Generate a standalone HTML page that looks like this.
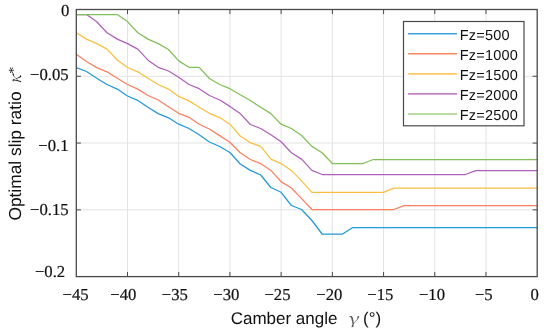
<!DOCTYPE html>
<html><head><meta charset="utf-8"><title>Optimal slip ratio vs camber angle</title>
<style>html,body{margin:0;padding:0;background:#fff;width:550px;height:336px;overflow:hidden}svg{display:block;text-rendering:geometricPrecision}.tk{font-family:"Liberation Serif","Times New Roman",serif;font-size:16.7px;fill:#111;stroke:#111;stroke-width:0.2px}.lg{font-family:"Liberation Sans",Arial,sans-serif;font-size:14.5px;letter-spacing:0.2px;fill:#111}.lb{font-family:"Liberation Sans",Arial,sans-serif;font-size:17px;fill:#111}.gk{font-family:"Noto Serif CJK SC","Liberation Serif",serif;font-size:16px;fill:#1a1a1a}.st{font-family:"Liberation Serif","Times New Roman",serif;font-size:14px;fill:#111}</style>
</head><body>
<svg width="550" height="336" viewBox="0 0 550 336"><rect width="550" height="336" fill="#fff"/><line x1="127.51" y1="9.50" x2="127.51" y2="276.60" stroke="#e3e3e3" stroke-width="1"/><line x1="178.72" y1="9.50" x2="178.72" y2="276.60" stroke="#e3e3e3" stroke-width="1"/><line x1="229.93" y1="9.50" x2="229.93" y2="276.60" stroke="#e3e3e3" stroke-width="1"/><line x1="281.14" y1="9.50" x2="281.14" y2="276.60" stroke="#e3e3e3" stroke-width="1"/><line x1="332.36" y1="9.50" x2="332.36" y2="276.60" stroke="#e3e3e3" stroke-width="1"/><line x1="383.57" y1="9.50" x2="383.57" y2="276.60" stroke="#e3e3e3" stroke-width="1"/><line x1="434.78" y1="9.50" x2="434.78" y2="276.60" stroke="#e3e3e3" stroke-width="1"/><line x1="485.99" y1="9.50" x2="485.99" y2="276.60" stroke="#e3e3e3" stroke-width="1"/><line x1="76.30" y1="76.28" x2="537.20" y2="76.28" stroke="#e3e3e3" stroke-width="1"/><line x1="76.30" y1="143.05" x2="537.20" y2="143.05" stroke="#e3e3e3" stroke-width="1"/><line x1="76.30" y1="209.83" x2="537.20" y2="209.83" stroke="#e3e3e3" stroke-width="1"/><polyline points="76.3,67.6 86.5,71.5 96.8,78.2 107.0,84.5 117.3,89.1 127.5,96.0 137.8,100.4 148.0,107.3 158.2,113.6 168.5,117.8 178.7,124.2 189.0,128.5 199.2,134.8 209.4,142.0 219.7,146.5 229.9,152.5 240.2,164.0 250.4,170.4 260.7,175.0 270.9,187.5 281.1,192.3 291.4,205.5 301.6,209.5 311.9,220.5 322.1,234.0 342.6,234.0 352.8,227.5 537.2,227.5" fill="none" stroke="#2299d8" stroke-width="1.25" stroke-linejoin="round"/><polyline points="76.3,54.2 86.5,61.5 96.8,67.6 107.0,71.8 117.3,78.2 127.5,84.5 137.8,89.1 148.0,95.5 158.2,100.0 168.5,106.8 178.7,113.3 189.0,117.3 199.2,124.2 209.4,129.0 219.7,135.6 229.9,142.2 240.2,152.8 250.4,159.5 260.7,163.6 270.9,170.4 281.1,181.6 291.4,188.0 301.6,198.6 311.9,209.5 393.8,209.5 404.1,205.7 537.2,205.7" fill="none" stroke="#f88060" stroke-width="1.25" stroke-linejoin="round"/><polyline points="76.3,32.7 86.5,39.1 96.8,43.6 107.0,49.1 117.3,60.0 127.5,67.5 137.8,71.8 148.0,78.2 158.2,84.5 168.5,89.1 178.7,96.4 189.0,100.9 199.2,107.3 209.4,113.3 219.7,117.6 229.9,124.2 240.2,136.0 250.4,142.7 260.7,146.4 270.9,159.1 281.1,163.6 291.4,170.4 301.6,180.9 311.9,192.3 383.6,192.3 393.8,188.2 537.2,188.2" fill="none" stroke="#f9c040" stroke-width="1.25" stroke-linejoin="round"/><polyline points="76.3,14.6 86.5,14.6 96.8,21.8 107.0,32.7 117.3,39.1 127.5,43.6 137.8,49.1 148.0,60.2 158.2,67.3 168.5,71.0 178.7,77.3 189.0,84.5 199.2,88.7 209.4,95.5 219.7,100.0 229.9,106.4 240.2,113.6 250.4,124.5 260.7,128.5 270.9,134.8 281.1,141.8 291.4,152.7 301.6,159.1 311.9,170.4 322.1,174.5 465.5,174.5 475.7,170.6 537.2,170.6" fill="none" stroke="#b060bc" stroke-width="1.25" stroke-linejoin="round"/><polyline points="76.3,14.6 117.3,14.6 127.5,21.6 137.8,32.7 148.0,39.1 158.2,43.6 168.5,49.5 178.7,60.9 189.0,67.3 199.2,67.3 209.4,78.5 219.7,84.5 229.9,88.7 240.2,94.8 250.4,100.5 260.7,107.3 270.9,113.6 281.1,124.2 291.4,128.5 301.6,135.5 311.9,146.4 322.1,152.7 332.4,163.5 363.1,163.5 373.3,159.5 537.2,159.5" fill="none" stroke="#80c058" stroke-width="1.25" stroke-linejoin="round"/><line x1="127.51" y1="276.60" x2="127.51" y2="272.00" stroke="#4a4a4a" stroke-width="1"/><line x1="127.51" y1="9.50" x2="127.51" y2="14.10" stroke="#4a4a4a" stroke-width="1"/><line x1="178.72" y1="276.60" x2="178.72" y2="272.00" stroke="#4a4a4a" stroke-width="1"/><line x1="178.72" y1="9.50" x2="178.72" y2="14.10" stroke="#4a4a4a" stroke-width="1"/><line x1="229.93" y1="276.60" x2="229.93" y2="272.00" stroke="#4a4a4a" stroke-width="1"/><line x1="229.93" y1="9.50" x2="229.93" y2="14.10" stroke="#4a4a4a" stroke-width="1"/><line x1="281.14" y1="276.60" x2="281.14" y2="272.00" stroke="#4a4a4a" stroke-width="1"/><line x1="281.14" y1="9.50" x2="281.14" y2="14.10" stroke="#4a4a4a" stroke-width="1"/><line x1="332.36" y1="276.60" x2="332.36" y2="272.00" stroke="#4a4a4a" stroke-width="1"/><line x1="332.36" y1="9.50" x2="332.36" y2="14.10" stroke="#4a4a4a" stroke-width="1"/><line x1="383.57" y1="276.60" x2="383.57" y2="272.00" stroke="#4a4a4a" stroke-width="1"/><line x1="383.57" y1="9.50" x2="383.57" y2="14.10" stroke="#4a4a4a" stroke-width="1"/><line x1="434.78" y1="276.60" x2="434.78" y2="272.00" stroke="#4a4a4a" stroke-width="1"/><line x1="434.78" y1="9.50" x2="434.78" y2="14.10" stroke="#4a4a4a" stroke-width="1"/><line x1="485.99" y1="276.60" x2="485.99" y2="272.00" stroke="#4a4a4a" stroke-width="1"/><line x1="485.99" y1="9.50" x2="485.99" y2="14.10" stroke="#4a4a4a" stroke-width="1"/><line x1="76.30" y1="76.28" x2="80.90" y2="76.28" stroke="#4a4a4a" stroke-width="1"/><line x1="537.20" y1="76.28" x2="532.60" y2="76.28" stroke="#4a4a4a" stroke-width="1"/><line x1="76.30" y1="143.05" x2="80.90" y2="143.05" stroke="#4a4a4a" stroke-width="1"/><line x1="537.20" y1="143.05" x2="532.60" y2="143.05" stroke="#4a4a4a" stroke-width="1"/><line x1="76.30" y1="209.83" x2="80.90" y2="209.83" stroke="#4a4a4a" stroke-width="1"/><line x1="537.20" y1="209.83" x2="532.60" y2="209.83" stroke="#4a4a4a" stroke-width="1"/><rect x="76.30" y="9.50" width="460.90" height="267.10" fill="none" stroke="#4a4a4a" stroke-width="1.3"/><text class="tk" x="69.3" y="16.2" text-anchor="end">0</text><text class="tk" x="68.6" y="80.3" text-anchor="end">−0.05</text><text class="tk" x="68.6" y="150.7" text-anchor="end">−0.1</text><text class="tk" x="68.6" y="215.3" text-anchor="end">−0.15</text><text class="tk" x="65.2" y="276.7" text-anchor="end">−0.2</text><text class="tk" x="75.6" y="299.9" text-anchor="middle">−45</text><text class="tk" x="123.4" y="299.9" text-anchor="middle">−40</text><text class="tk" x="174.9" y="299.9" text-anchor="middle">−35</text><text class="tk" x="226.4" y="299.9" text-anchor="middle">−30</text><text class="tk" x="277.5" y="299.9" text-anchor="middle">−25</text><text class="tk" x="329.4" y="299.9" text-anchor="middle">−20</text><text class="tk" x="380.3" y="299.9" text-anchor="middle">−15</text><text class="tk" x="432.0" y="299.9" text-anchor="middle">−10</text><text class="tk" x="483.8" y="299.9" text-anchor="middle">−5</text><text class="tk" x="534.7" y="299.9" text-anchor="middle">0</text><rect x="403.5" y="21.5" width="120.5" height="104.3" fill="#fff" stroke="#4a4a4a" stroke-width="1.2"/><line x1="408.00" y1="33.75" x2="457.00" y2="33.75" stroke="#40a2dc" stroke-width="1.6"/><text class="lg" x="459.8" y="40.1">Fz=500</text><line x1="408.00" y1="53.80" x2="457.00" y2="53.80" stroke="#fa875f" stroke-width="1.6"/><text class="lg" x="459.8" y="60.2">Fz=1000</text><line x1="408.00" y1="73.85" x2="457.00" y2="73.85" stroke="#fec864" stroke-width="1.6"/><text class="lg" x="459.8" y="80.2">Fz=1500</text><line x1="408.00" y1="93.90" x2="457.00" y2="93.90" stroke="#c382c8" stroke-width="1.6"/><text class="lg" x="459.8" y="100.3">Fz=2000</text><line x1="408.00" y1="113.95" x2="457.00" y2="113.95" stroke="#a0d082" stroke-width="1.6"/><text class="lg" x="459.8" y="120.4">Fz=2500</text><text class="lb" x="230.7" y="323.8">Camber angle</text><text class="gk" style="fill:#5a5a5a" transform="translate(347.6,324) skewX(-12) scale(1.3,0.95)" x="0" y="0">γ</text><text class="lb" x="363" y="323.8">(°)</text><g transform="translate(21.0,220.6) rotate(-90)"><text class="lb" x="0" y="0" style="font-size:17.35px">Optimal slip ratio</text><text class="gk" transform="translate(136.6,0.3) skewX(-14)" x="0" y="0">κ</text><text class="st" x="146.8" y="-2.8">*</text></g></svg>
</body></html>
